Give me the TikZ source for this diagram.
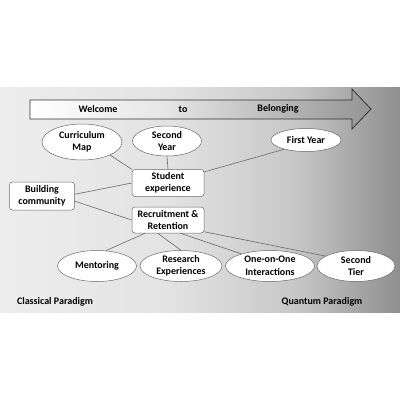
\documentclass[tikz,border=0pt]{standalone}
\usepackage{fontspec}
\setmainfont{Carlito}
\usepackage{tikz}
\usetikzlibrary{shapes, arrows.meta, positioning, calc}

\definecolor{edgegray}{RGB}{105, 105, 105}
\definecolor{arrowline}{RGB}{50, 50, 50}
\pgfdeclarehorizontalshading{bandshade}{100bp}{color(0bp)=(black!7); color(25bp)=(black!7); color(46bp)=(black!11); color(62bp)=(black!22); color(75bp)=(black!44); color(100bp)=(black!44)}
\pgfdeclarehorizontalshading{arrowshade}{100bp}{color(0bp)=(white); color(25bp)=(white); color(45bp)=(black!10); color(75bp)=(black!42); color(100bp)=(black!42)}

\begin{document}
\begin{tikzpicture}[x=1pt, y=-1pt,
    lbl/.style={font=\bfseries\fontsize{10}{12.5}\selectfont, text=black, align=center, inner sep=0pt},
    ellnode/.style={lbl, ellipse, draw=edgegray, fill=white, line width=0.5pt},
    boxnode/.style={lbl, rectangle, rounded corners=3pt, draw=edgegray, fill=white, line width=0.5pt},
    link/.style={draw=edgegray, line width=0.6pt}]
  \useasboundingbox (0,0) rectangle (400,400);
  \fill[white] (0,0) rectangle (400,400);
  % background band
  \shade[shading=bandshade] (0,87) rectangle (400,312);
  % big arrow
  \shade[shading=arrowshade] (30,100) -- (352,100) -- (352,89) -- (371,109) -- (352,129) -- (352,119) -- (30,119) -- cycle;
  \draw[arrowline, line width=0.8pt, line join=miter] (30,100) -- (352,100) -- (352,89) -- (371,109) -- (352,129) -- (352,119) -- (30,119) -- cycle;
  \node[lbl] (welcome) at (98,109) {Welcome};
  \node[lbl] (to) at (183,109) {to};
  \node[lbl] (belong) at (278,109) {Belonging};
  % upper ellipses
  \node[ellnode, minimum width=80pt, minimum height=36pt] (cm) at (82,142) {Curriculum\\Map};
  \node[ellnode, minimum width=69pt, minimum height=30pt] (sy) at (167,141) {Second\\Year};
  \node[ellnode, minimum width=70pt, minimum height=23pt] (fy) at (306,140) {First Year};
  % boxes
  \node[boxnode, minimum width=72pt, minimum height=27pt] (se) at (168,183) {Student\\experience};
  \node[boxnode, minimum width=65pt, minimum height=28pt] (bc) at (42,196) {Building\\community};
  \node[boxnode, minimum width=72pt, minimum height=26pt] (rr) at (168,220) {Recruitment \&\\Retention};
  % lower ellipses
  \node[ellnode, minimum width=79pt, minimum height=31pt] (men) at (97,266) {Mentoring};
  \node[ellnode, minimum width=82pt, minimum height=31pt] (res) at (181,266) {Research\\Experiences};
  \node[ellnode, minimum width=89pt, minimum height=31pt] (ooo) at (270,266) {One-on-One\\Interactions};
  \node[ellnode, minimum width=78pt, minimum height=31pt] (st) at (356,266) {Second\\Tier};
  % paradigm labels
  \node[lbl] (classic) at (55,302) {Classical Paradigm};
  \node[lbl] (quantum) at (322,302) {Quantum Paradigm};
  % connectors
  \draw[link] (cm.-25) -- (se.north west);
  \draw[link] (sy.south) -- (se.north);
  \draw[link] (fy.-157) -- (se.17);
  \draw[link] (bc.3) -- (se.west);
  \draw[link] (bc.-9) -- (rr.west);
  \draw[link] (rr.-150) -- (men.60);
  \draw[link] (rr.-128) -- (res.north);
  \draw[link] (rr.-47) -- (ooo.157);
  \draw[link] (rr.-18) -- (st.162);
\end{tikzpicture}
\end{document}
